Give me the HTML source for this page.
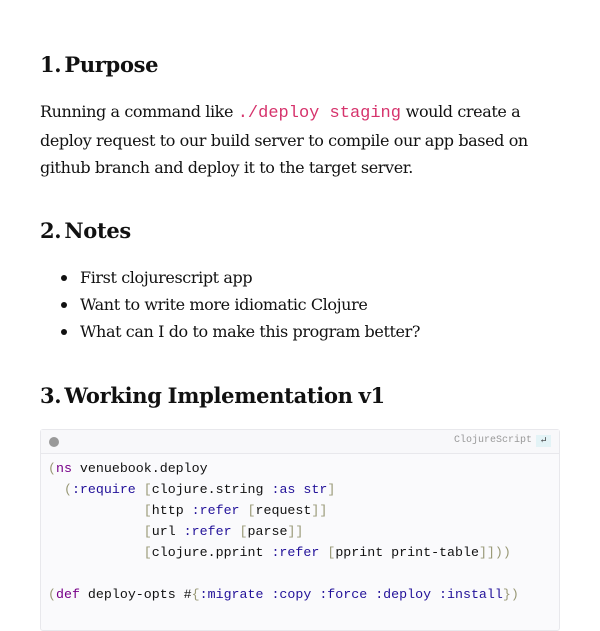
<!DOCTYPE html>
<html><head><meta charset="utf-8"><style>
body{margin:0;width:600px;height:600px;overflow:hidden;background:#fff;font-family:"DejaVu Serif","Liberation Serif",serif;color:#111;position:relative}
.a{position:absolute;white-space:nowrap}
h2{margin:0;font-size:21px;font-weight:bold;position:absolute;white-space:nowrap;letter-spacing:-0.3px;word-spacing:-1px}
.n{margin-right:-3px}
.p{font-size:16px;line-height:27px;letter-spacing:-0.4px}
code{font-family:"Liberation Mono",monospace;color:#d6336c;font-size:17px;letter-spacing:0}
ul{margin:0;padding:0;list-style:none}
li{position:relative;padding-left:40px}
li:before{content:"";position:absolute;left:21px;top:11px;width:6px;height:6px;border-radius:50%;background:#111}
.cb{position:absolute;left:40px;top:429px;width:518px;height:200px;border:1px solid #e8e8ec;border-radius:3px;background:#fafafc}
.hd{height:23px;border-bottom:1px solid #e8e8ec;background:#f8f8fa;position:relative}
.dot{position:absolute;left:8px;top:7px;width:10px;height:10px;border-radius:50%;background:#999}
.lang{position:absolute;right:27px;top:5px;font:10px "Liberation Mono",monospace;color:#999}
.ret{position:absolute;right:8px;top:5px;width:15px;height:12px;background:#e3f3f6;font-size:9px;line-height:12px;text-align:center;color:#333}
pre{margin:0;padding:4px 7px;font:13.3px/21px "Liberation Mono",monospace;color:#111}
.k{color:#708}.b{color:#219}.g{color:#997}
</style></head><body>
<h2 style="left:40px;top:52px"><span class="n">1.</span> Purpose</h2>
<div class="a p" style="left:40px;top:98px">Running a command like <code>./deploy staging</code> would create a<br>deploy request to our build server to compile our app based on<br>github branch and deploy it to the target server.</div>
<h2 style="left:40px;top:218px"><span class="n">2.</span> Notes</h2>
<ul class="a p" style="left:40px;top:264px"><li>First clojurescript app</li><li>Want to write more idiomatic Clojure</li><li>What can I do to make this program better?</li></ul>
<h2 style="left:40px;top:383px"><span class="n">3.</span> Working Implementation v1</h2>
<div class="cb"><div class="hd"><div class="dot"></div><div class="lang">ClojureScript</div><div class="ret">↵</div></div>
<pre><span class="g">(</span><span class="k">ns</span> venuebook.deploy
  <span class="g">(</span><span class="b">:require</span> <span class="g">[</span>clojure.string <span class="b">:as</span> <span class="b">str</span><span class="g">]</span>
            <span class="g">[</span>http <span class="b">:refer</span> <span class="g">[</span>request<span class="g">]]</span>
            <span class="g">[</span>url <span class="b">:refer</span> <span class="g">[</span>parse<span class="g">]]</span>
            <span class="g">[</span>clojure.pprint <span class="b">:refer</span> <span class="g">[</span>pprint print-table<span class="g">]]))</span>

<span class="g">(</span><span class="k">def</span> deploy-opts #<span class="g">{</span><span class="b">:migrate :copy :force :deploy :install</span><span class="g">})</span></pre></div>
</body></html>
